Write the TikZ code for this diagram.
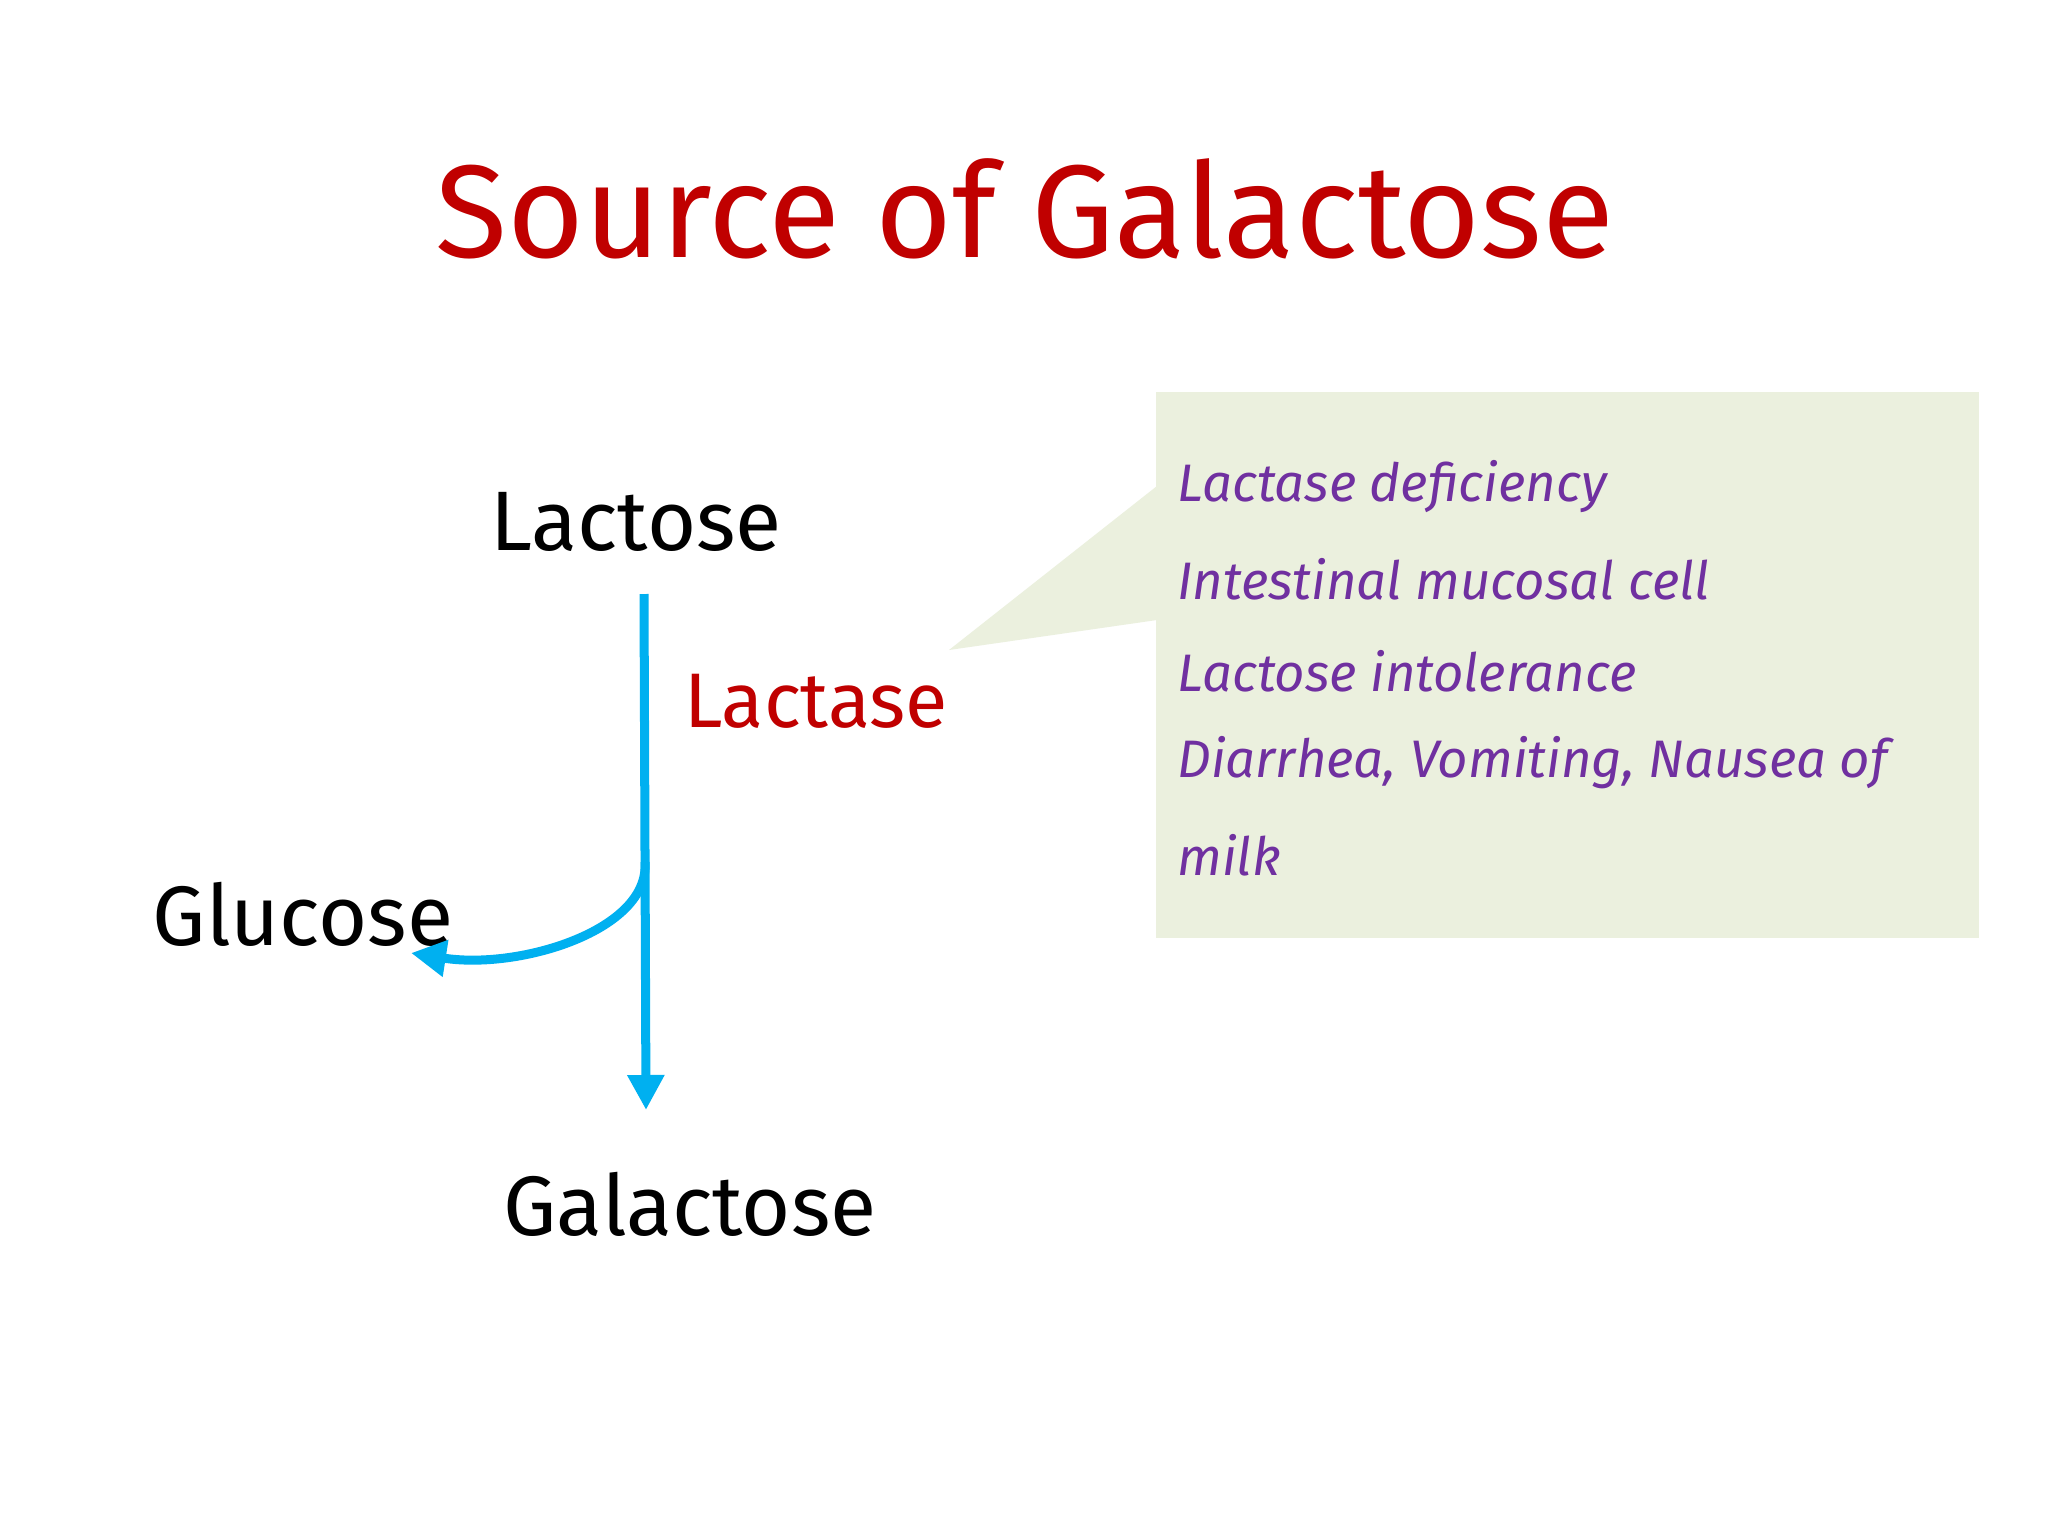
\documentclass[tikz,border=0pt]{standalone}
\usepackage{fontspec}
\setmainfont{Fira Sans}
\usetikzlibrary{arrows.meta}
\definecolor{tred}{RGB}{192,0,0}
\definecolor{tblue}{RGB}{0,176,240}
\definecolor{tpurple}{RGB}{112,48,160}
\definecolor{tbox}{RGB}{235,240,222}
\begin{document}
\begin{tikzpicture}[x=0.01cm,y=-0.01cm,
  big/.style={font=\fontsize{24}{28}\selectfont},
  flow/.style={draw=tblue,line width=0.09cm,-{Triangle[length=0.35cm,width=0.35cm]}},
  note/.style={font=\fontsize{15}{18}\selectfont\itshape,text=tpurple,anchor=west}]
\fill[white] (0,0) rectangle (2048,1536);
\node (title) at (1025,209) {\fontsize{37.5}{44}\selectfont\color{tred}Source of Galactose};
\fill[tbox] (1156,392) rectangle (1979,938);
\fill[tbox] (1157,486) -- (949,650) -- (1157,620) -- cycle;
\node[big] (lac) at (636,522) {Lactose};
\node[font=\fontsize{22}{26}\selectfont,text=tred] (enz) at (816,701) {Lactase};
\node[big] (glu) at (303,914) {Glucose};
\node[big] (gal) at (690,1204) {Galactose};
\coordinate (top) at (644,594);
\coordinate (bot) at (646,1110);
\coordinate (br) at (645,862);
\coordinate (gend) at (411,953);
\draw[flow] (top) -- (bot);
\draw[flow] (br) .. controls (650,930) and (520,970) .. (gend);
\node[note] (n1) at (1165,487) {Lactase deficiency};
\node[note] (n2) at (1165,579) {Intestinal mucosal cell};
\node[note] (n3) at (1165,671) {Lactose intolerance};
\node[note] (n4) at (1165,763) {Diarrhea, Vomiting, Nausea of};
\node[note] (n5) at (1165,855) {milk};
\end{tikzpicture}
\end{document}
